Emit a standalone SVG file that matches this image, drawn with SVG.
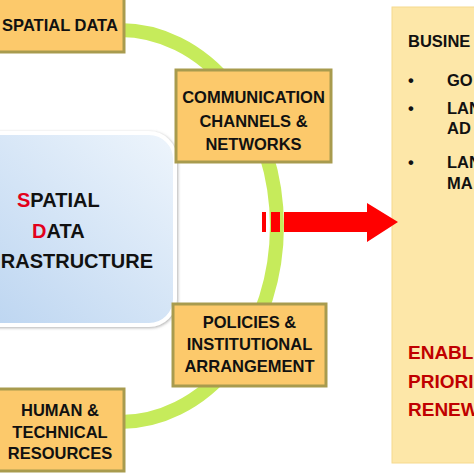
<svg xmlns="http://www.w3.org/2000/svg" width="474" height="474" viewBox="0 0 474 474">
<defs>
<linearGradient id="sdiGrad" x1="1" y1="0" x2="0" y2="1">
<stop offset="0" stop-color="#eef5fc"/>
<stop offset="1" stop-color="#b9d3f0"/>
</linearGradient>
<filter id="shadow" x="-10%" y="-10%" width="120%" height="120%">
<feDropShadow dx="1" dy="1" stdDeviation="1.5" flood-color="#808080" flood-opacity="0.6"/>
</filter>
</defs>
<style>
.box{fill:#fcc96b;stroke:#a89b4e;stroke-width:3}
.lbl{font-family:"Liberation Sans",Arial,sans-serif;font-weight:bold;font-size:16.5px;fill:#111;text-anchor:middle}
.sdi{font-family:"Liberation Sans",Arial,sans-serif;font-weight:bold;font-size:20px;fill:#111}
.red{fill:#e3001b}
.pt{font-family:"Liberation Sans",Arial,sans-serif;font-weight:bold;font-size:16.5px;fill:#111}
.pr{font-family:"Liberation Sans",Arial,sans-serif;font-weight:bold;font-size:19px;fill:#c00000}
</style>
<rect width="474" height="474" fill="#ffffff"/>
<g id="panel">
<rect x="392" y="7" width="100" height="456" fill="#fde7a8" stroke="#f6d98e" stroke-width="1"/>
<text class="pt" x="408" y="47">BUSINE</text>
<text class="pt" x="408" y="86">•</text>
<text class="pt" x="447" y="86">GO</text>
<text class="pt" x="408" y="114">•</text>
<text class="pt" x="447" y="114">LAN</text>
<text class="pt" x="447" y="134">AD</text>
<text class="pt" x="408" y="168">•</text>
<text class="pt" x="447" y="168">LAN</text>
<text class="pt" x="447" y="189">MA</text>
<text class="pr" x="408" y="359">ENABL</text>
<text class="pr" x="408" y="388">PRIORI</text>
<text class="pr" x="408" y="416">RENEW</text>
</g>
<g id="connectors">
<path d="M 120 30 A 157 196 0 0 1 120 422" fill="none" stroke="#c6eb5b" stroke-width="14"/>
<g id="arrow" fill="#ff0000">
<rect x="262" y="212" width="4" height="20"/>
<rect x="271" y="212" width="9" height="20"/>
<polygon points="284,212 367,212 367,203 398,222 367,242 367,232 284,232"/>
</g>
</g>
<g id="sdi">
<rect x="-40" y="133" width="215" height="192" rx="26" ry="26" fill="url(#sdiGrad)" stroke="#ffffff" stroke-width="4" filter="url(#shadow)"/>
<text class="sdi" x="17" y="207"><tspan class="red">S</tspan>PATIAL</text>
<text class="sdi" x="32" y="238"><tspan class="red">D</tspan>ATA</text>
<text class="sdi" x="153" y="268" text-anchor="end">RASTRUCTURE</text>
</g>
<g id="spatial-data">
<rect class="box" x="-5" y="-5" width="129" height="57"/>
<text class="lbl" x="60" y="31">SPATIAL DATA</text>
</g>
<g id="communication">
<rect class="box" x="176" y="70" width="155" height="92"/>
<text class="lbl" x="253.5" y="103">COMMUNICATION</text>
<text class="lbl" x="253.5" y="127">CHANNELS &amp;</text>
<text class="lbl" x="253.5" y="150">NETWORKS</text>
</g>
<g id="policies">
<rect class="box" x="173" y="304" width="153" height="82"/>
<text class="lbl" x="249.5" y="328">POLICIES &amp;</text>
<text class="lbl" x="249.5" y="350">INSTITUTIONAL</text>
<text class="lbl" x="249.5" y="372">ARRANGEMENT</text>
</g>
<g id="human">
<rect class="box" x="-5" y="389" width="129" height="82"/>
<text class="lbl" x="60" y="416">HUMAN &amp;</text>
<text class="lbl" x="60" y="438">TECHNICAL</text>
<text class="lbl" x="60" y="459">RESOURCES</text>
</g>
</svg>
